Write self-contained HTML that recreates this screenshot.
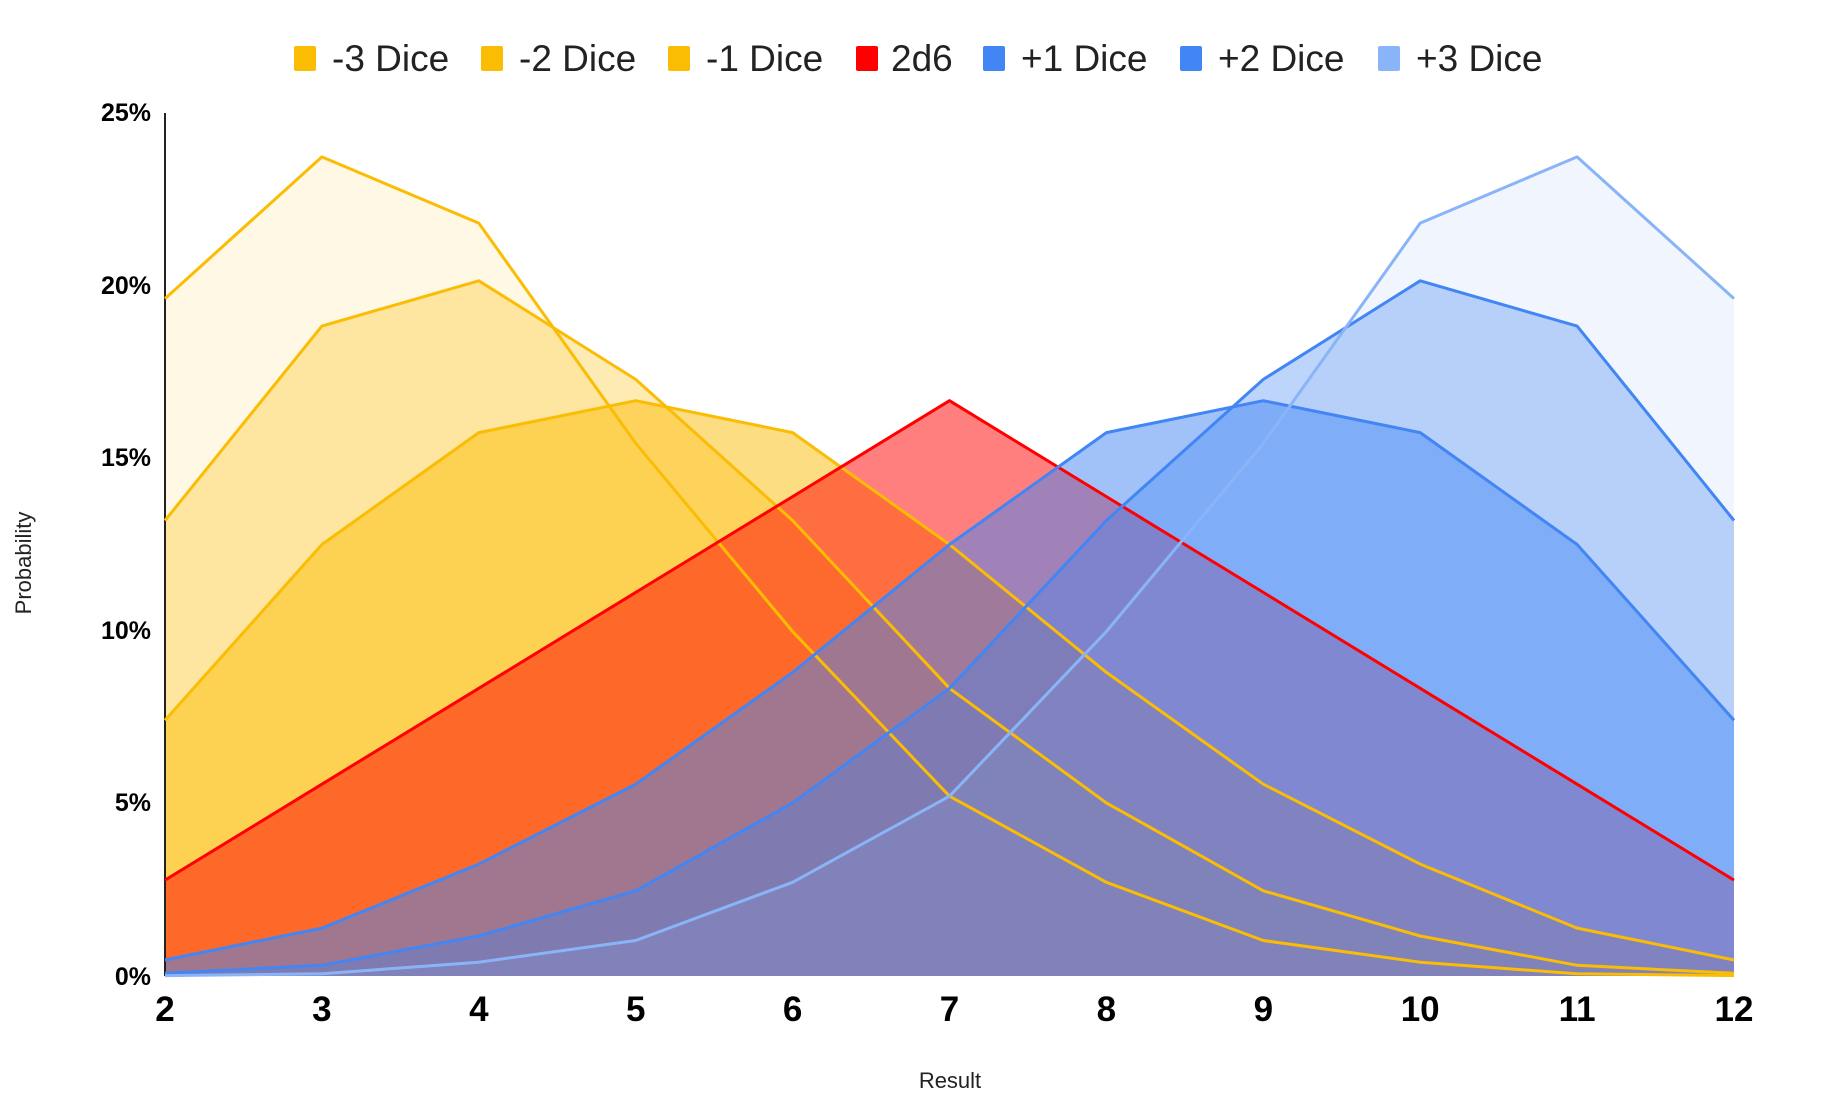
<!DOCTYPE html>
<html><head><meta charset="utf-8"><style>
html,body{margin:0;padding:0;background:#fff;width:1848px;height:1119px;overflow:hidden}
svg{display:block;font-family:"Liberation Sans",Arial,sans-serif}
</style></head><body>
<svg id="s" width="1848" height="1119" xmlns="http://www.w3.org/2000/svg">
<g id="areas"></g>
<line x1="165" y1="113" x2="165" y2="976" stroke="#222" stroke-width="2"/>
<g id="lines"></g>
<g font-size="25" font-weight="bold" text-anchor="end" fill="#000">
<text x="151" y="121">25%</text>
<text x="151" y="294">20%</text>
<text x="151" y="466">15%</text>
<text x="151" y="639">10%</text>
<text x="151" y="811">5%</text>
<text x="151" y="985">0%</text>
</g>
<g font-size="35" font-weight="bold" text-anchor="middle" fill="#000" id="xl"></g>
<text x="950" y="1088" font-size="22" text-anchor="middle" fill="#222">Result</text>
<text transform="translate(31,563) rotate(-90)" font-size="22" text-anchor="middle" fill="#222">Probability</text>
<g font-size="37" fill="#222">
<rect x="294" y="46" width="22" height="25" rx="2" fill="#fbbc04"/><text x="332" y="71">-3 Dice</text>
<rect x="481" y="46" width="22" height="25" rx="2" fill="#fbbc04"/><text x="519" y="71">-2 Dice</text>
<rect x="668" y="46" width="22" height="25" rx="2" fill="#fbbc04"/><text x="706" y="71">-1 Dice</text>
<rect x="856" y="46" width="22" height="25" rx="2" fill="#ff0000"/><text x="891" y="71">2d6</text>
<rect x="983" y="46" width="22" height="25" rx="2" fill="#4285f4"/><text x="1021" y="71">+1 Dice</text>
<rect x="1180" y="46" width="22" height="25" rx="2" fill="#4285f4"/><text x="1218" y="71">+2 Dice</text>
<rect x="1378" y="46" width="22" height="25" rx="2" fill="#8ab4f8"/><text x="1416" y="71">+3 Dice</text>
</g>
</svg>
<script>
function dist(n,high){
  var c=new Array(13).fill(0),tot=Math.pow(6,n);
  for(var i=0;i<tot;i++){var a=[],v=i;for(var k=0;k<n;k++){a.push(v%6+1);v=Math.floor(v/6);}
    a.sort(function(x,y){return x-y});var s=high?a[n-1]+a[n-2]:a[0]+a[1];c[s]++;}
  return c.map(function(x){return x/tot*100});
}
var X=function(n){return 165+(n-2)*156.9},Y=function(p){return 976-p*34.52};
var series=[[dist(5,false),'#fbbc04',0.1],[dist(4,false),'#fbbc04',0.3],[dist(3,false),'#fbbc04',0.5],
 [dist(2,true),'#ff0000',0.5],[dist(3,true),'#4285f4',0.5],[dist(4,true),'#4285f4',0.35],[dist(5,true),'#8ab4f8',0.12]];
var h='',l='';
series.forEach(function(s){var pts=[];for(var n=2;n<=12;n++)pts.push(X(n).toFixed(1)+','+Y(s[0][n]).toFixed(1));
 h+='<polygon points="'+X(2)+',976 '+pts.join(' ')+' '+X(12)+',976" fill="'+s[1]+'" fill-opacity="'+s[2]+'"/>';
 l+='<polyline points="'+pts.join(' ')+'" fill="none" stroke="'+s[1]+'" stroke-width="3" stroke-linejoin="round"/>';});
document.getElementById('areas').innerHTML=h;
document.getElementById('lines').innerHTML=l;
var xl='';for(var n=2;n<=12;n++)xl+='<text x="'+X(n)+'" y="1021">'+n+'</text>';
document.getElementById('xl').innerHTML=xl;
</script>
</body></html>
